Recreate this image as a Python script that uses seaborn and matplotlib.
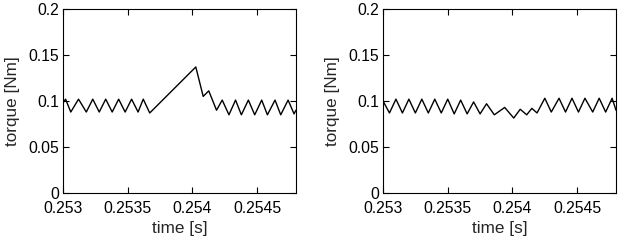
import matplotlib
matplotlib.use("Agg")
import matplotlib.pyplot as plt
import seaborn as sns
import pandas as pd

# Left panel: time [s] and torque [Nm]
left_time = [0.25300, 0.25302, 0.25306, 0.25312, 0.25318, 0.25323, 0.25328, 0.25333,
             0.25338, 0.25343, 0.25348, 0.25353, 0.25358, 0.25362, 0.25367,
             0.254026, 0.254083, 0.254126, 0.254186,
             0.25423, 0.254282, 0.254333, 0.254378, 0.254432, 0.254481, 0.254535,
             0.254579, 0.254638, 0.254682, 0.254739, 0.254785, 0.25480]
left_torque = [0.098, 0.102, 0.088, 0.102, 0.088, 0.102, 0.088, 0.102,
               0.088, 0.102, 0.088, 0.102, 0.088, 0.102, 0.087,
               0.137, 0.105, 0.111, 0.090,
               0.101, 0.085, 0.101, 0.085, 0.101, 0.085, 0.101,
               0.085, 0.101, 0.085, 0.101, 0.086, 0.090]

# Right panel
right_time = [0.25300, 0.25305, 0.25310, 0.25315, 0.25320, 0.25325, 0.25330, 0.25335,
              0.25340, 0.25345, 0.25350, 0.25355, 0.25360, 0.25365, 0.25370, 0.25375,
              0.25380, 0.25386, 0.25394, 0.25401, 0.25406, 0.25411, 0.25415, 0.25419,
              0.25425, 0.25430, 0.25436, 0.25441, 0.25446, 0.25451, 0.25456, 0.25462,
              0.25467, 0.25472, 0.25477, 0.25480]
right_torque = [0.100, 0.087, 0.102, 0.087, 0.102, 0.087, 0.102, 0.087,
                0.102, 0.087, 0.102, 0.086, 0.101, 0.086, 0.099, 0.086,
                0.097, 0.085, 0.093, 0.0815, 0.091, 0.085, 0.092, 0.087,
                0.103, 0.088, 0.103, 0.088, 0.103, 0.088, 0.103, 0.088,
                0.103, 0.088, 0.103, 0.090]

xticks = [0.253, 0.2535, 0.254, 0.2545]
xtick_labels = ["0.253", "0.2535", "0.254", "0.2545"]
yticks = [0, 0.05, 0.1, 0.15, 0.2]
ytick_labels = ["0", "0.05", "0.1", "0.15", "0.2"]
xlabel = "time [s]"
ylabel = "torque [Nm]"

sns.set_style("ticks")
plt.rcParams["font.family"] = ["Liberation Sans", "DejaVu Sans"]

fig = plt.figure(figsize=(6.25, 2.43), dpi=100)
positions = [[63 / 625, 50 / 243, 233 / 625, 184 / 243],
             [383 / 625, 50 / 243, 233 / 625, 184 / 243]]
series = [(left_time, left_torque), (right_time, right_torque)]

for pos, (t, q) in zip(positions, series):
    ax = fig.add_axes(pos)
    df = pd.DataFrame({"time": t, "torque": q})
    sns.lineplot(data=df, x="time", y="torque", ax=ax, color="black",
                 linewidth=1.0, sort=False, estimator=None)
    ax.set_xlim(0.253, 0.2548)
    ax.set_ylim(0, 0.2)
    ax.set_xticks(xticks)
    ax.set_xticklabels(xtick_labels)
    ax.set_yticks(yticks)
    ax.set_yticklabels(ytick_labels)
    ax.tick_params(direction="in", length=4, width=0.8, top=True, right=True,
                   labelsize=11.3, colors="black")
    ax.tick_params(axis="x", pad=6)
    ax.tick_params(axis="y", pad=3)
    ax.set_xlabel(xlabel, fontsize=12.3, labelpad=3)
    ax.set_ylabel(ylabel, fontsize=12.3, labelpad=6)
    for sp in ax.spines.values():
        sp.set_visible(True)
        sp.set_linewidth(0.8)
        sp.set_color("black")

fig.savefig("out.png", dpi=100)
